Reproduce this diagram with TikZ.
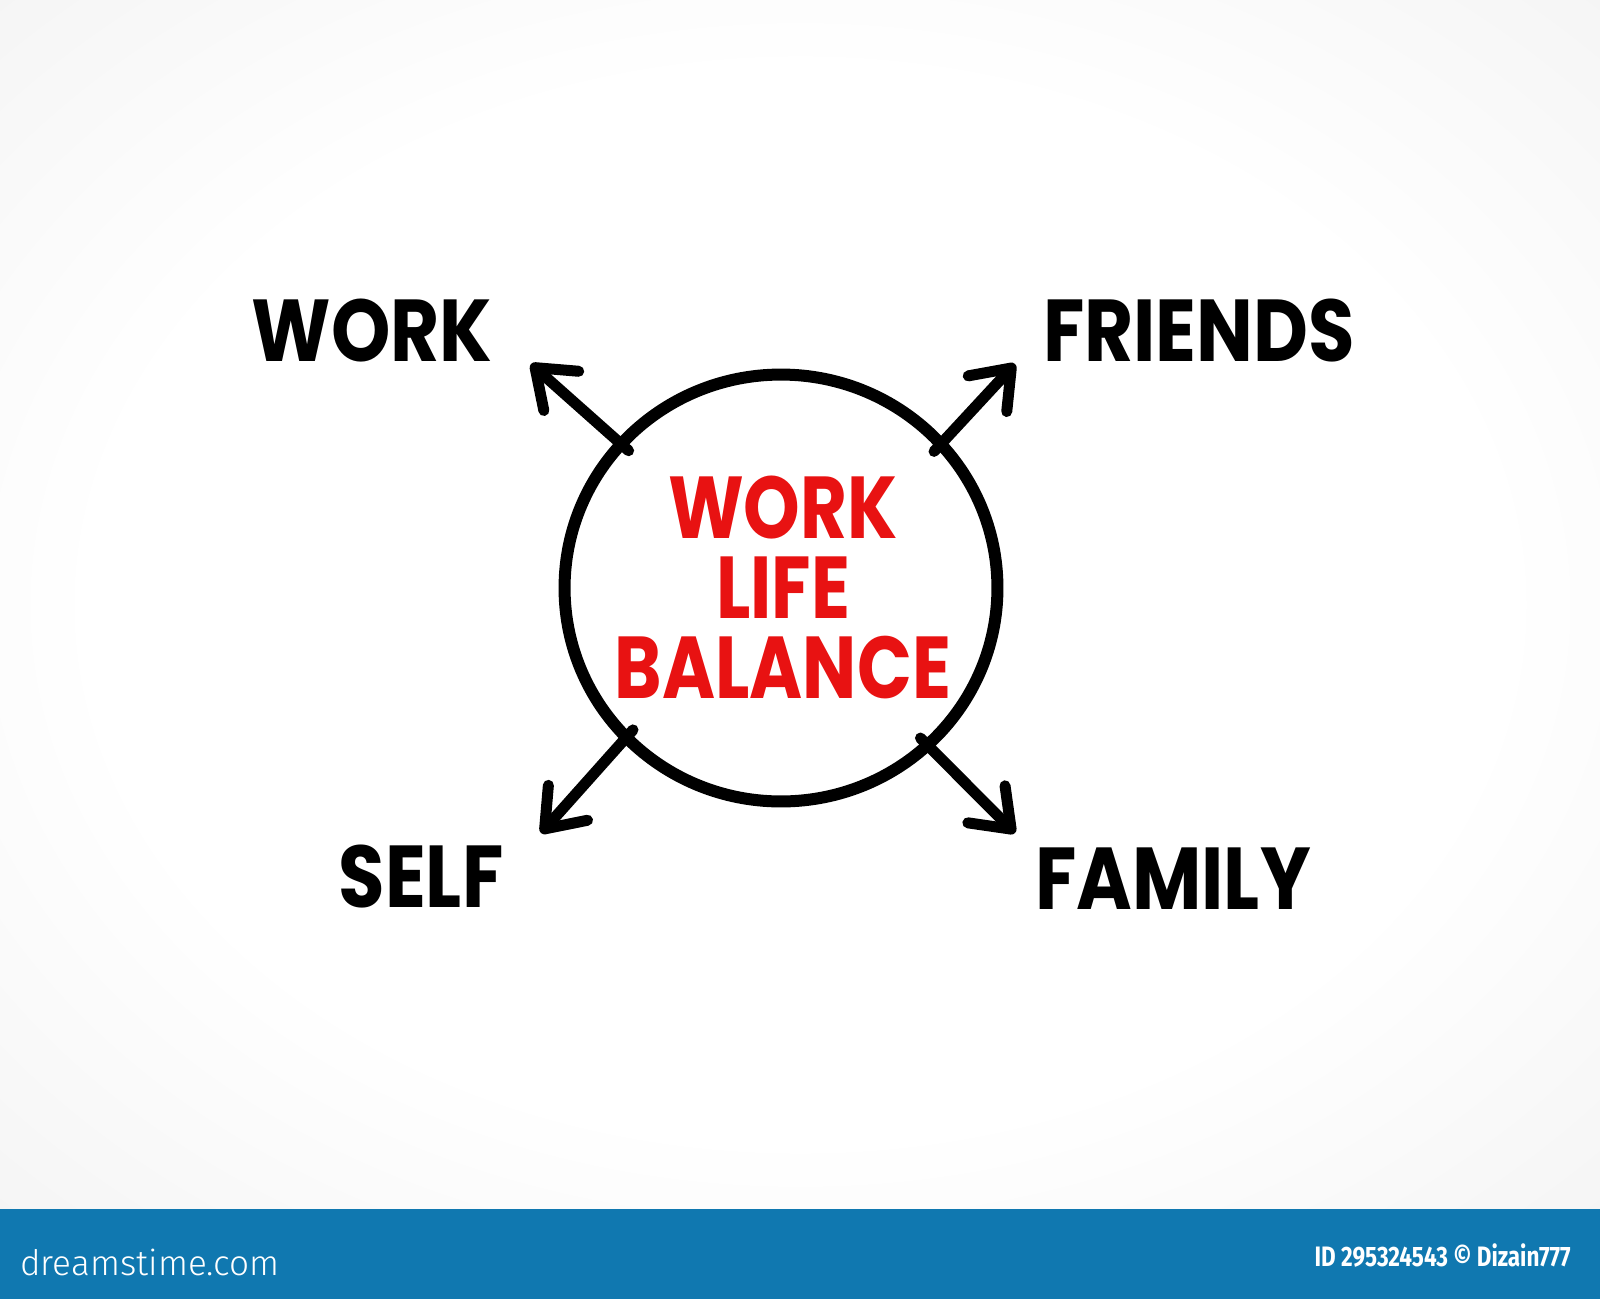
\documentclass[tikz,border=0pt]{standalone}
\usepackage{fontspec}
\usetikzlibrary{arrows.meta,shapes.geometric}
\newfontfamily\hand[FakeStretch=0.82]{Poppins}
\newfontfamily\handw[FakeStretch=0.86]{Poppins}
\newfontfamily\wmfont{Fira Sans Light}
\newfontfamily\idfont[FakeStretch=0.8]{Fira Sans}
\pgfdeclareradialshading{bgshade}{\pgfpoint{0bp}{0bp}}{color(0bp)=(white); color(22bp)=(white); color(50bp)=(black!8); color(71bp)=(black!12)}
\definecolor{barblue}{RGB}{16,120,176}
\definecolor{markred}{RGB}{232,18,18}
\begin{document}
\begin{tikzpicture}[x=0.02cm,y=-0.02cm,
  lbl/.style={font=\handw\bfseries\fontsize{50}{50}\selectfont, inner sep=0pt, text=black},
  redt/.style={font=\hand\bfseries\fontsize{50}{45.5}\selectfont, inner sep=0pt, text=markred, align=center},
  arr/.style={line width=0.22cm, line cap=round, line join=round, shorten <=-0.2cm,
    -{Straight Barb[length=0.7cm,width=1.05cm,line cap=round,line join=round]}},
  ring/.style={draw, line width=0.24cm, ellipse, inner sep=0pt, outer sep=0pt}]
\useasboundingbox (0,0) rectangle (1600,1299);
\shade[shading=bgshade] (0,0) rectangle (1600,1209);
\fill[barblue] (0,1209) rectangle (1600,1299);
% central ring and its text
\node[ring, minimum width=8.66cm, minimum height=8.54cm] (c) at (781,588) {};
\node[redt] (title) at (783,587) {WORK\\LIFE\\BALANCE};
% outer labels
\node[lbl] (work) at (372,331) {WORK};
\node[lbl] (friends) at (1199,331) {FRIENDS};
\node[lbl] (self) at (421,877) {SELF};
\node[lbl] (family) at (1173,879) {FAMILY};
% arrow tips
\coordinate (pNW) at (531,364);
\coordinate (pNE) at (1015,364);
\coordinate (pSW) at (541,833);
\coordinate (pSE) at (1015,833);
\draw[arr] (c.138) -- (pNW);
\draw[arr] (c.42) -- (pNE);
\draw[arr] (c.224) -- (pSW);
\draw[arr] (c.313) -- (pSE);
% footer
\node[font=\wmfont\fontsize{20}{20}\selectfont, text=white, anchor=west, inner sep=0pt] (brand) at (20,1262) {dreamstime.com};
\node[font=\idfont\bfseries\fontsize{16}{16}\selectfont, text=white, anchor=east, inner sep=0pt] (idtxt) at (1571,1255) {ID 295324543 © Dizain777};
\end{tikzpicture}
\end{document}
